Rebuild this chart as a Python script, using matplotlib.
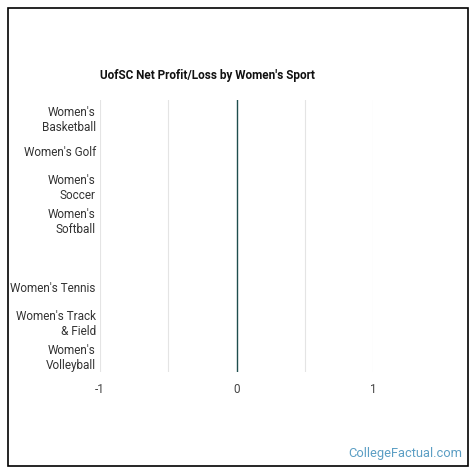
"""
    plot.py

    UofSC net profit/loss by women's sport (all values zero)
"""

from matplotlib import pyplot as plt
from matplotlib.patches import Rectangle

import numpy as np

plt.rcParams['font.family'] = ['Roboto', 'DejaVu Sans']

sports = ["Women's\nBasketball", "Women's Golf", "Women's\nSoccer", "Women's\nSoftball",
          "", "Women's Tennis", "Women's Track\n& Field", "Women's\nVolleyball"]
net_profit = [0, 0, 0, 0, 0, 0, 0, 0]
xticks = [-1, 0, 1]
xtick_labels = ['-1', '0', '1']

fig = plt.figure(figsize = (4.76, 4.76), dpi = 100)
ax = fig.add_axes([100/476., 1 - 372/476., 273/476., 272/476.])

y = np.arange(len(sports))
ax.barh(y, net_profit, height = 0.6, color = '#1f4e5a')
ax.set_ylim(len(sports) - 0.5, -0.5)
ax.set_xlim(-1, 1)

for v in [-1, -0.5, 0.5, 1]:
    ax.axvline(v, color = '#e4e4e4', lw = 0.8, zorder = 0)
ax.axvline(0, color = '#1f4e4e', lw = 1.0, zorder = 3)

ax.set_yticks(y)
ax.set_yticklabels(sports, fontsize = 8.5, color = '#333333', linespacing = 1.25)
for t in ax.get_yticklabels():
    t.set_multialignment('right')
ax.set_xticks(xticks)
ax.set_xticklabels(xtick_labels, fontsize = 8.5, color = '#444444')
ax.tick_params(length = 0)
ax.tick_params(axis = 'y', pad = 3)
ax.tick_params(axis = 'x', pad = 8)

for s in ax.spines.values():
    s.set_visible(False)

fig.text(100/476., 1 - 75/476., 'UofSC Net Profit/Loss by Women\'s Sport',
         fontsize = 8.5, fontweight = 'bold', va = 'center', ha = 'left', color = '#111111')

fig.text(462/476., 1 - 454/476., 'CollegeFactual.com', fontsize = 9.3,
         color = '#5b9ec4', ha = 'right', va = 'center')

fig.patches.append(Rectangle((8/476., 1 - 466/476.), 460/476., 458/476.,
                             transform = fig.transFigure, fill = False,
                             edgecolor = 'black', lw = 1.2))

fig.savefig('out.png', dpi = 100)
